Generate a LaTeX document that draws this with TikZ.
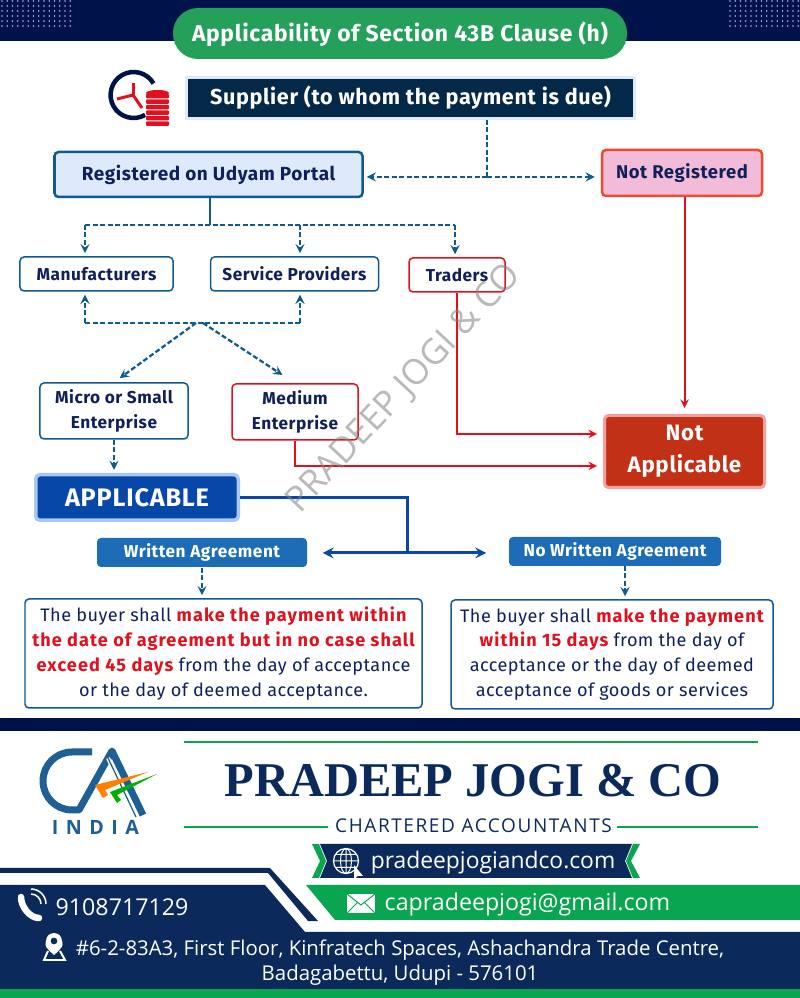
\documentclass[tikz,border=0pt]{standalone}
\usepackage{fontspec}
\setmainfont{Liberation Sans}
\newfontfamily\headfont[LetterSpace=3]{Fira Sans}
\newfontfamily\bodyfont[LetterSpace=2.4]{Fira Sans}
\newfontfamily\hotfont[LetterSpace=6]{Fira Sans}
\newfontfamily\firmfont{Liberation Serif}
\newfontfamily\plainfont{Open Sans}
\newfontfamily\wideplain[LetterSpace=8.5]{Open Sans}
\newfontfamily\logofont[LetterSpace=38]{Open Sans}
\usetikzlibrary{positioning}

\definecolor{bandnavy}{HTML}{00124A}
\definecolor{footnavy}{HTML}{0B2A5B}
\definecolor{suppliernavy}{HTML}{042848}
\definecolor{titlegreen}{HTML}{24A05A}
\definecolor{footgreen}{HTML}{0AA550}
\definecolor{inknavy}{HTML}{10205A}
\definecolor{linkblue}{HTML}{0F5A8F}
\definecolor{logoblue}{HTML}{1E5F95}
\definecolor{tabblue}{HTML}{1C6DB5}
\definecolor{alertred}{HTML}{E0101E}
\definecolor{deepblue}{HTML}{0747A8}
\definecolor{skyfill}{HTML}{DEEAFB}
\definecolor{skyedge}{HTML}{A8C8F5}
\definecolor{pinkfill}{HTML}{F2BCD8}
\definecolor{pinkedge}{HTML}{F4A0A0}
\definecolor{orangered}{HTML}{EE4A30}
\definecolor{brickred}{HTML}{C23015}

\newcommand{\hot}[1]{\textcolor{alertred}{\hotfont\bfseries #1}}

\tikzstyle{concept} = [rectangle, rounded corners=0.08cm, text centered, draw=linkblue, fill=white, line width=0.03cm, text=inknavy, font=\headfont\bfseries\fontsize{9.8}{14}\selectfont, inner sep=0pt]
\tikzstyle{redconcept} = [concept, draw=alertred]
\tikzstyle{bluetab} = [concept, draw=none, fill=tabblue, text=white]
\tikzstyle{textbox} = [concept, align=center, font=\bodyfont\fontsize{10.3}{14.2}\selectfont]
\tikzstyle{foot} = [text=white, inner sep=0pt, font=\plainfont\fontsize{13.2}{14.2}\selectfont]
\tikzstyle{dashline} = [linkblue, line width=0.045cm, dash pattern=on 0.1cm off 0.05cm]
\tikzstyle{dasharrow} = [dashline, ->, >=stealth, shorten >=0.06cm]
\tikzstyle{redarrow} = [alertred, line width=0.04cm, ->, >=stealth, shorten >=0.12cm]
\tikzstyle{bluearrow} = [deepblue, line width=0.06cm, ->, >=stealth]

\begin{document}
\begin{tikzpicture}
	\useasboundingbox (0,0) rectangle (16,19.96);
	% Top band
	\fill[bandnavy] (0,19.14) rectangle (16,19.96);
	\foreach \i in {0,...,13} {
		\foreach \j in {0,...,5} {
			\fill[blue!30!white] (0.04+\i*0.105,19.94-\j*0.1) circle (0.018);
			\fill[blue!30!white] (14.6+\i*0.105,19.94-\j*0.1) circle (0.018);
		}
	}
	% Nodes
	\node (title) [concept, draw=none, fill=titlegreen, rounded corners=0.5cm, minimum width=9.08cm, minimum height=1.02cm, text=white, text height=0.41cm, text depth=0.1cm, font=\headfont\bfseries\fontsize{13}{14}\selectfont] at (8,19.29) {Applicability of Section 43B Clause (h)};
	\node (supplier) [concept, rounded corners=0, draw=skyfill, fill=suppliernavy, line width=0.06cm, minimum width=8.96cm, minimum height=0.82cm, text=white, font=\headfont\bfseries\fontsize{12.3}{14}\selectfont] at (8.21,18) {Supplier (to whom the payment is due)};
	\node (registered) [concept, fill=skyfill, line width=0.05cm, minimum width=6.16cm, minimum height=0.9cm, font=\headfont\bfseries\fontsize{10.8}{14}\selectfont] at (4.17,16.47) {Registered on Udyam Portal};
	\node (notreg) [concept, draw=orangered, fill=pinkfill, line width=0.05cm, minimum width=3.2cm, minimum height=0.92cm, font=\headfont\bfseries\fontsize{10.5}{14}\selectfont] at (13.64,16.5) {Not Registered};
	\node (manuf) [concept, minimum width=3.06cm, minimum height=0.68cm] at (1.93,14.48) {Manufacturers};
	\node (service) [concept, minimum width=3.36cm, minimum height=0.68cm] at (5.89,14.48) {Service Providers};
	\node (traders) [redconcept, minimum width=1.92cm, minimum height=0.68cm] at (9.14,14.46) {Traders};
	\node (micro) [concept, align=center, minimum width=2.96cm, minimum height=1.12cm] at (2.28,11.74) {Micro or Small\\Enterprise};
	\node (medium) [redconcept, align=center, minimum width=2.52cm, minimum height=1.12cm] at (5.9,11.72) {Medium\\Enterprise};
	\node (notappl) [concept, draw=pinkedge, fill=brickred, line width=0.06cm, align=center, minimum width=3.2cm, minimum height=1.44cm, text=white, font=\headfont\bfseries\fontsize{12.7}{18.4}\selectfont] at (13.69,10.93) {Not\\Applicable};
	\node (applicable) [concept, draw=skyedge, fill=deepblue, line width=0.07cm, minimum width=4.05cm, minimum height=0.91cm, text=white, font=\headfont\bfseries\fontsize{14.4}{14}\selectfont] at (2.74,10.01) {APPLICABLE};
	\node (written) [bluetab, minimum width=4.2cm, minimum height=0.58cm] at (4.04,8.91) {Written Agreement};
	\node (nowritten) [bluetab, minimum width=4.24cm, minimum height=0.58cm] at (12.3,8.93) {No Written Agreement};
	\node (box1) [textbox, minimum width=7.94cm, minimum height=2.18cm] at (4.47,6.89) {The buyer shall \hot{make the payment within}\\\hot{the date of agreement but in no case shall}\\\hot{exceed 45 days} from the day of acceptance\\or the day of deemed acceptance.};
	\node (box2) [textbox, minimum width=6.44cm, minimum height=2.18cm] at (12.24,6.87) {The buyer shall \hot{make the payment}\\\hot{within 15 days} from the day of\\acceptance or the day of deemed\\acceptance of goods or services};
	% Connector ends
	\coordinate (split) at (9.74,16.42);
	\coordinate (fan) at (4.2,15.46);
	\coordinate (fanl) at (1.7,15.46);
	\coordinate (fanm) at (6,15.46);
	\coordinate (fanr) at (9.1,15.46);
	\coordinate (lowl) at (1.7,13.5);
	\coordinate (lowr) at (6,13.5);
	\coordinate (lowa) at (3.92,13.5);
	\coordinate (lowb) at (4.06,13.5);
	\coordinate (naptop) at (notappl.west |- 0,11.28);
	\coordinate (napbot) at (notappl.west |- 0,10.64);
	\coordinate (join) at (8.14,8.9);
	\coordinate (nwdrop) at (12.5,8.64);
	% Arrows
	\draw [dashline] (supplier.south -| split) -- (split);
	\draw [dasharrow] (split) -- (split -| registered.east);
	\draw [dasharrow, shorten >=0.12cm] (split) -- (split -| notreg.west);
	\draw [linkblue, line width=0.04cm] (registered.south -| fan) -- (fan);
	\draw [dashline] (fanl) -- (fanr);
	\draw [dasharrow] (fanl) -- (fanl |- manuf.north);
	\draw [dasharrow] (fanm) -- (fanm |- service.north);
	\draw [dasharrow] (fanr) -- (fanr |- traders.north);
	\draw [dashline] (lowl) -- (lowr);
	\draw [dasharrow] (lowl) -- (lowl |- manuf.south);
	\draw [dasharrow] (lowr) -- (lowr |- service.south);
	\draw [dasharrow, shorten >=0.14cm] (lowa) -- (micro.north);
	\draw [dasharrow, shorten >=0.3cm] (lowb) -- (medium.north);
	\draw [dasharrow] (micro.south) -- (micro.south |- applicable.north);
	\draw [redarrow] (traders.south) |- (naptop);
	\draw [redarrow] (medium.south) |- (napbot);
	\draw [redarrow] (notappl |- notreg.south) -- (notappl.north);
	\draw [deepblue, line width=0.06cm] (applicable.east) -| (join);
	\draw [bluearrow, shorten >=0.3cm] (join) -- (join -| written.east);
	\draw [bluearrow, shorten >=0.44cm] (join) -- (join -| nowritten.west);
	\draw [dasharrow] (written.south) -- (written.south |- box1.north);
	\draw [dasharrow] (nwdrop) -- (nwdrop |- box2.north);
	% Clock and coins
	\draw[bandnavy, line width=0.09cm] (3.07,18.29) arc (30:300:0.46);
	\draw[alertred, line width=0.06cm] (2.66,18.06) -- (2.66,18.3);
	\draw[alertred, line width=0.06cm] (2.66,18.06) -- (2.34,17.98);
	\draw[alertred, line width=0.06cm] (2.66,18.06) -- (2.84,17.8);
	\foreach \j in {0,...,5} {
		\fill[alertred, rounded corners=0.02cm] (2.92,17.44+\j*0.11) rectangle (3.38,17.53+\j*0.11);
	}
	\fill[alertred] (3.15,18.1) ellipse (0.23 and 0.06);
	% Divider
	\fill[bandnavy] (0,5.34) rectangle (16,5.6);
	% Letterhead
	\draw[footgreen, line width=0.03cm] (3.68,5.12) -- (15.16,5.12);
	\draw[footgreen, line width=0.03cm] (3.68,3.42) -- (6.56,3.42);
	\draw[footgreen, line width=0.03cm] (12.34,3.42) -- (15.16,3.42);
	\node (firm) [inner sep=0pt, text=footnavy, font=\firmfont\bfseries\fontsize{27.6}{30}\selectfont] at (9.46,4.34) {PRADEEP JOGI \& CO};
	\node (role) [inner sep=0pt, text=footnavy, font=\wideplain\fontsize{10.8}{12}\selectfont] at (9.47,3.44) {CHARTERED ACCOUNTANTS};
	% Logo
	\draw[logoblue, line width=0.14cm, line join=round] (1.84,4.92) -- (1.44,4.92) arc (90:270:0.58) -- (1.58,3.76) -- (2.24,4.94) -- (2.86,3.66);
	\draw[white, line width=0.08cm] (2.16,4.8) -- (2.74,3.6);
	\draw[logoblue, line width=0.025cm] (2.16,4.8) -- (2.72,3.62);
	\fill[orange] (1.9,4.26) -- (2.96,4.52) -- (2.1,4.16) -- (2.16,4.06) -- (2.06,4) -- cycle;
	\fill[green!70!black] (2.2,4.12) -- (3.14,4.48) -- (2.34,4.06) -- (2.42,3.96) -- (2.34,3.9) -- cycle;
	\node (india) [inner sep=0pt, text=logoblue, font=\logofont\bfseries\fontsize{11.2}{12}\selectfont] at (1.91,3.42) {INDIA};
	% Footer shapes
	\fill[footnavy] (0,0.18) -- (0,2.26) -- (5.3,2.26) -- (6.1,1.32) -- (16,1.32) -- (16,0.18) -- cycle;
	\fill[footnavy] (0,2.6) -- (5.4,2.6) -- (6.36,1.54) -- (6.16,1.54) -- (5.36,2.5) -- (0,2.5) -- cycle;
	\fill[footgreen] (6.12,2.26) -- (16,2.26) -- (16,1.56) -- (6.7,1.56) -- cycle;
	\fill[footgreen] (0,0) rectangle (16,0.18);
	\fill[footnavy] (6.4,3.08) -- (12.64,3.08) -- (12.5,2.74) -- (12.64,2.4) -- (6.4,2.4) -- (6.54,2.74) -- cycle;
	\fill[footgreen] (6.24,3.08) -- (6.38,3.08) -- (6.52,2.74) -- (6.38,2.4) -- (6.24,2.4) -- (6.4,2.74) -- cycle;
	\fill[footgreen] (12.66,3.08) -- (12.8,3.08) -- (12.62,2.74) -- (12.8,2.4) -- (12.66,2.4) -- (12.52,2.74) -- cycle;
	\node (web) [foot, font=\plainfont\fontsize{13}{14}\selectfont] at (9.86,2.7) {pradeepjogiandco.com};
	\node (mail) [foot] at (10.55,1.88) {capradeepjogi@gmail.com};
	\node (phone) [foot] at (2.44,1.82) {9108717129};
	\node (addr) [foot, align=center, font=\plainfont\fontsize{11.6}{14.2}\selectfont] at (8,0.7) {\#6-2-83A3, First Floor, Kinfratech Spaces, Ashachandra Trade Centre,\\Badagabettu, Udupi - 576101};
	% Icons
	\draw[white, line width=0.025cm] (6.92,2.74) circle (0.25);
	\draw[white, line width=0.02cm] (6.92,2.74) ellipse (0.11 and 0.25) (6.67,2.74) -- (7.17,2.74) (6.92,2.49) -- (6.92,2.99) (6.71,2.87) -- (7.13,2.87) (6.71,2.61) -- (7.13,2.61);
	\fill[white] (7.08,2.66) -- (7.08,2.36) -- (7.15,2.44) -- (7.26,2.44) -- cycle;
	\fill[white] (6.94,1.7) rectangle (7.5,2.08);
	\draw[footgreen, line width=0.02cm] (6.94,2.08) -- (7.22,1.86) -- (7.5,2.08) (6.94,1.7) -- (7.14,1.9) (7.5,1.7) -- (7.3,1.9);
	\draw[white, line width=0.13cm, line cap=round] (0.42,2.02) .. controls (0.42,1.82) and (0.6,1.6) .. (0.78,1.6);
	\draw[white, line width=0.03cm] (0.62,2.08) arc (90:0:0.2) (0.62,2.18) arc (90:0:0.3);
	\fill[white, even odd rule] (1.08,0.86) .. controls (0.84,1.06) and (0.92,1.1) .. (0.92,1.14) arc (180:0:0.16) .. controls (1.24,1.1) and (1.32,1.06) .. (1.08,0.86) (1.08,1.14) circle (0.07);
	\draw[white, line width=0.04cm] (0.96,0.94) -- (0.88,0.76) -- (1.3,0.76) -- (1.2,0.94);
	% Watermark
	\node (wmark) [rotate=47, text=gray, opacity=0.55, inner sep=0pt, font=\plainfont\fontsize{20}{22}\selectfont] at (8.08,12.18) {PRADEEP JOGI \& CO};
\end{tikzpicture}
\end{document}
